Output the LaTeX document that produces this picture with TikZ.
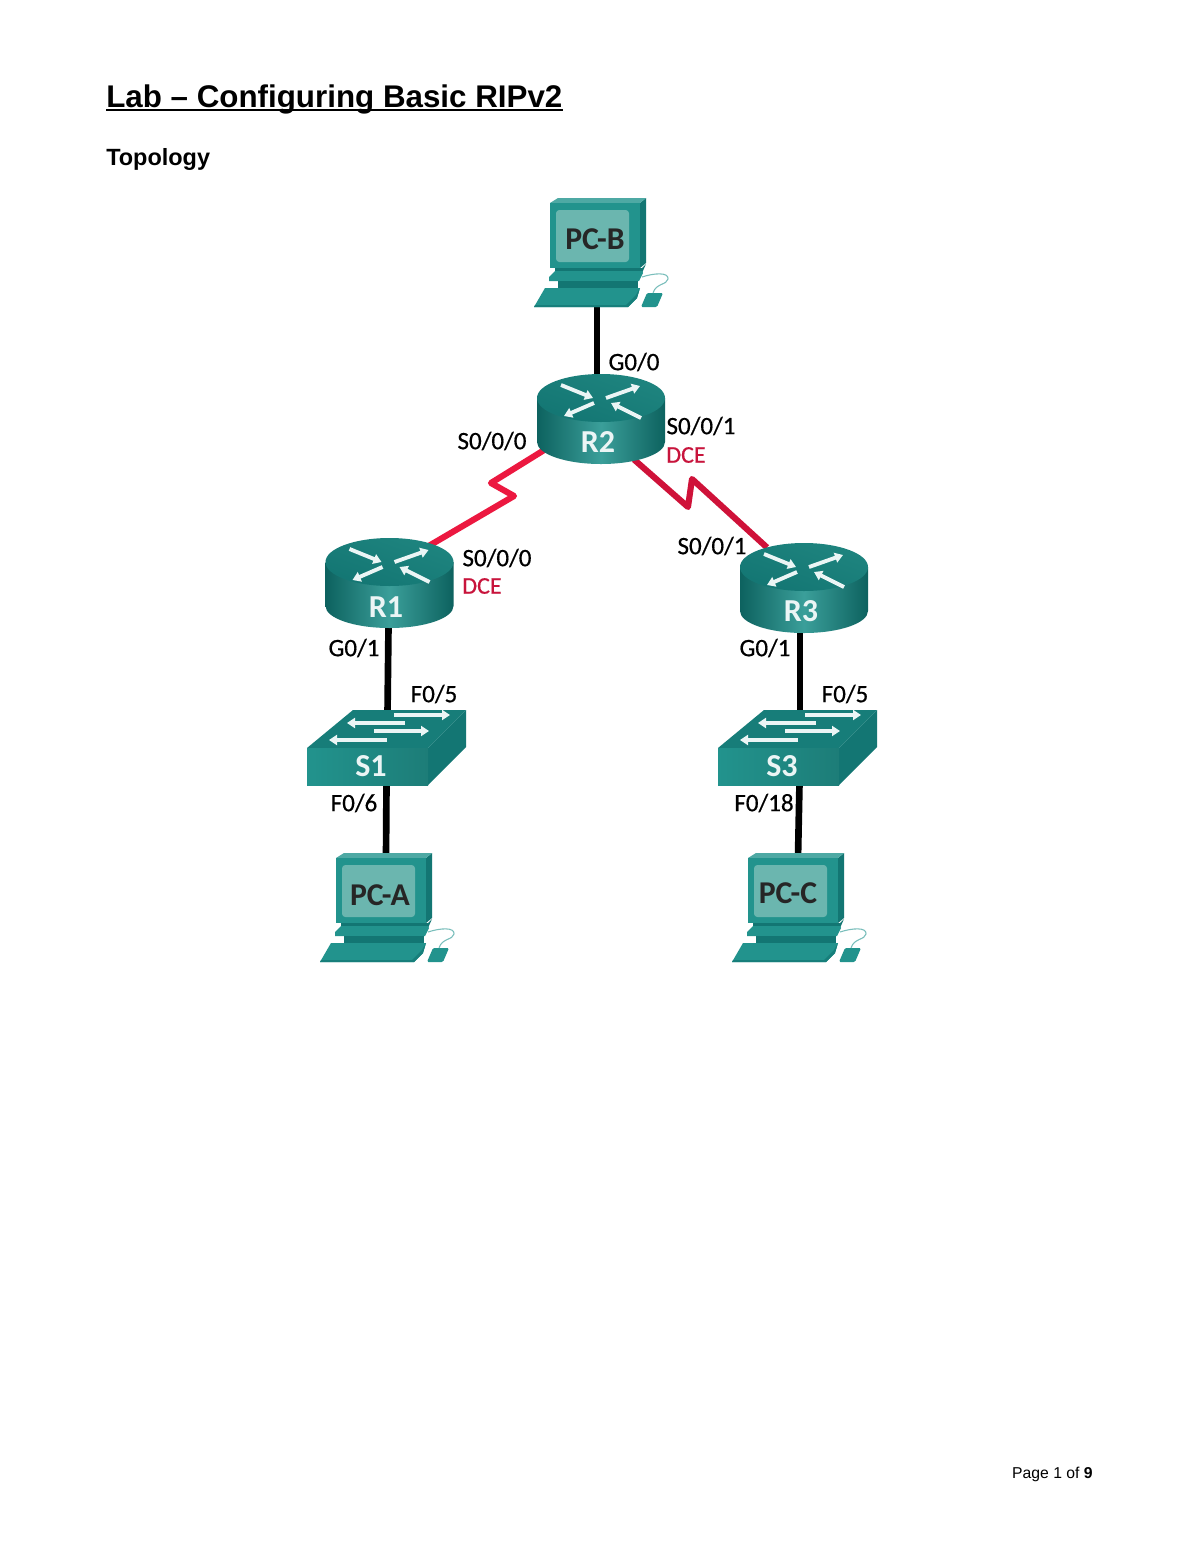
\documentclass[tikz,border=0pt]{standalone}
\usepackage{fontspec}
\setmainfont{Liberation Sans}
\newfontfamily\lblfont[RawFeature={embolden=0.5}]{Carlito}
\newfontfamily\namefont{Carlito}
\usetikzlibrary{arrows.meta,calc}
\definecolor{tealA}{HTML}{22938D}
\definecolor{tealB}{HTML}{137673}
\definecolor{tealC}{HTML}{0D625F}
\definecolor{tealD}{HTML}{3FA39E}
\definecolor{screenT}{HTML}{6BB6AF}
\definecolor{redlink}{HTML}{EC1840}
\definecolor{redlinkB}{HTML}{CF1239}
\definecolor{dcered}{HTML}{C8143C}
\tikzset{
  x=0.75pt,y=-0.75pt,
  blank/.style={inner sep=0,outer sep=0,minimum width=#1},
  lnk/.style={line width=5pt,black},
  serial/.style={line width=4.6pt,line join=round},
  lbl/.style={font=\lblfont\fontsize{18.8}{22}\selectfont,text=black,inner sep=0},
  dce/.style={font=\lblfont\fontsize{18}{22}\selectfont,text=dcered,inner sep=0},
  devname/.style={font=\namefont\bfseries\fontsize{24}{28}\selectfont,text=white!92!teal,inner sep=0},
  pcname/.style={font=\namefont\bfseries\fontsize{23.8}{28}\selectfont,text=black!85,inner sep=0},
  wharrow/.style={white!92!teal,line width=2.9pt,-{Triangle[length=6pt,width=7.5pt]}},
  pcdevice/.pic={
    \fill[tealB] (90,0)--(96,-5)--(96,60)--(90,65)--cycle;
    \fill[tealA!80!white] (0,0)--(8,-5)--(96,-5)--(90,0)--cycle;
    \fill[tealA] (0,0) rectangle (90,65);
    \fill[screenT,rounded corners=2.5pt] (6,7) rectangle (79,59);
    \fill[tealB] (5,65)--(92,65)--(96,61)--(92,70)--(5,70)--cycle;
    \fill[tealA] (-1,74)--(5,68)--(92,68)--(93,70)--(89,78)--(-1,78)--cycle;
    \fill[tealB] (8,78) rectangle (88,85);
    \fill[tealA] (-16,104)--(-5,85)--(90,85)--(87,95)--(78,104)--cycle;
    \fill[tealB!70!tealA] (78,104)--(87,95)--(90,85)--(86,92)--(76,102)--(-15,102)--(-16,104)--cycle;
    \fill[tealA,rounded corners=1pt] (91,104)--(97,90)--(113,90)--(107,104)--cycle;
    \draw[tealD!70!white,line width=0.8pt] (92,74) .. controls (104,70) and (119,69) .. (118,76) .. controls (117,82) and (106,80) .. (103,90);
  },
  routerdevice/.pic={
    \shade[left color=tealC,right color=tealC,middle color=tealD!90!tealB] (-64,0) -- (-64,44) arc[start angle=180,end angle=360,x radius=64,y radius=-22] -- (64,0) -- cycle;
    \shade[top color=tealA!90!black,bottom color=tealB,shading angle=-20] (0,0) ellipse[x radius=64,y radius=24];
    \draw[wharrow] (-40,-13)--(-8,0);
    \draw[wharrow] (5,0)--(39,-12);
    \draw[wharrow] (-7,5)--(-37,18);
    \draw[wharrow] (40,20)--(10,5);
  },
  switchdevice/.pic={
    \fill[tealB] (121,0)--(159,-38)--(159,-1)--(121,37)--cycle;
    \fill[tealB!75!tealA] (0,0)--(46,-38)--(159,-38)--(121,0)--cycle;
    \shade[left color=tealA,right color=tealA!85!black] (0,0) rectangle (121,37);
    \draw[wharrow] (87,-33)--(143,-33);
    \draw[wharrow] (98,-25)--(40,-25);
    \draw[wharrow] (67,-17)--(122,-17);
    \draw[wharrow] (80,-8)--(22,-8);
  },
}
\begin{document}
\begin{tikzpicture}
\useasboundingbox (0,0) rectangle (1200,1553);
\fill[white] (0,0) rectangle (1200,1553);
% text
\node[anchor=base west,inner sep=0,font=\bfseries\fontsize{23.5}{27}\selectfont] (title) at (106,107) {Lab – Configuring Basic RIPv2};
\coordinate (ulA) at (106,110);
\coordinate (ulB) at (563,110);
\draw[black,line width=1.7pt] (ulA) -- (ulB);
\node[anchor=west,inner sep=0,font=\bfseries\fontsize{17.6}{21}\selectfont] (topo) at (106,159.5) {Topology};
\node[anchor=east,inner sep=0,font=\fontsize{11.8}{14}\selectfont] (pg) at (1093,1474) {Page 1 of \textbf{9}};
% device anchors
\node[blank=100pt,minimum height=82pt] (pcb) at (597,252.5) {};
\node[blank=94pt,minimum height=68pt] (r2) at (601,419.5) {};
\node[blank=94pt,minimum height=68pt] (r1) at (389.5,583.5) {};
\node[blank=94pt,minimum height=68pt] (r3) at (804,588.5) {};
\node[blank=119pt,minimum height=56pt] (s1) at (386.5,747.5) {};
\node[blank=119pt,minimum height=56pt] (s3) at (797.5,747.5) {};
\node[blank=100pt,minimum height=82pt] (pca) at (386,908.5) {};
\node[blank=100pt,minimum height=82pt] (pcc) at (798,908.5) {};
% links
\draw[lnk] (pcb.south) -- ($(r2.north)+(-4,4)$);
\draw[lnk] ($(r1.south)+(-1,-3)$) -- ($(s1.north)+(1,4)$);
\draw[lnk] ($(r3.south)+(-4,-3)$) -- ($(s3.north)+(2.5,4)$);
\draw[lnk] ($(s1.south)+(0,-2)$) -- ($(pca.north)+(0,4)$);
\draw[lnk] ($(s3.south)+(2,-2)$) -- ($(pcc.north)+(0,4)$);
\coordinate (a1) at (491,483); \coordinate (a2) at (514,496);
\coordinate (b1) at (688,507); \coordinate (b2) at (692,479);
\draw[serial,redlink] ($(r2)+(-56,30)$) -- (a1) -- (a2) -- ($(r1)+(40,-38)$);
\draw[serial,redlinkB] ($(r2)+(33,40)$) -- (b1) -- (b2) -- ($(r3)+(-37,-41)$);
% devices
\pic at (550,203) {pcdevice};
\pic at (336,858) {pcdevice};
\pic at (748,858) {pcdevice};
\pic at (601,398) {routerdevice};
\pic at (389.5,562) {routerdevice};
\pic at (804,567) {routerdevice};
\pic at (307,748) {switchdevice};
\pic at (718,748) {switchdevice};
% names
\node[pcname] (nb) at (595,239) {PC-B};
\node[pcname] (na) at (380,895) {PC-A};
\node[pcname] (nc) at (788,893) {PC-C};
\node[devname] (n2) at (598,442) {R2};
\node[devname] (n1) at (386,607) {R1};
\node[devname] (n3) at (801,611) {R3};
\node[devname] (ns1) at (371,766) {S1};
\node[devname] (ns3) at (782,766) {S3};
% port labels
\node[lbl] (l1) at (634,362) {G0/0};
\node[lbl] (l2) at (492,441) {S0/0/0};
\node[lbl] (l3) at (701,426) {S0/0/1};
\node[dce] (l4) at (686,455) {DCE};
\node[lbl] (l5) at (497,558) {S0/0/0};
\node[dce] (l6) at (482,586) {DCE};
\node[lbl] (l7) at (712,546) {S0/0/1};
\node[lbl] (l8) at (354,648) {G0/1};
\node[lbl] (l9) at (765,648) {G0/1};
\node[lbl] (l10) at (434,694) {F0/5};
\node[lbl] (l11) at (845,694) {F0/5};
\node[lbl] (l12) at (354,803) {F0/6};
\node[lbl] (l13) at (764,803) {F0/18};
\end{tikzpicture}
\end{document}
